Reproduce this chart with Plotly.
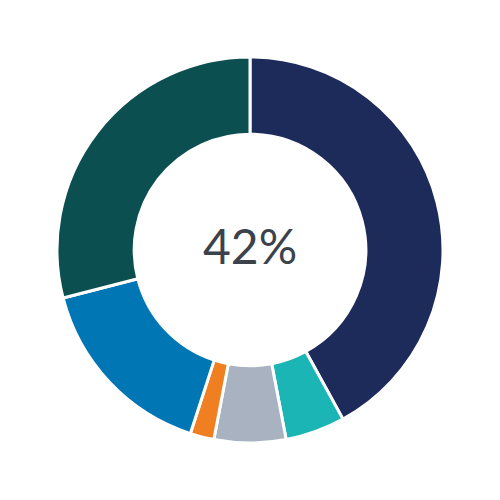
import plotly.graph_objects as go

labels = ["A", "B", "C", "D", "E", "F"]
values = [42, 5, 6, 2, 16, 29]
colors = ["#1d2b5b", "#1cb5b5", "#a8b2c1", "#f07f22", "#0076b5", "#0b4f51"]
center_text = "42%"

fig = go.Figure(
    go.Pie(
        labels=labels,
        values=values,
        hole=0.6,
        sort=False,
        direction="clockwise",
        rotation=0,
        textinfo="none",
        hoverinfo="label+percent",
        marker=dict(colors=colors, line=dict(color="white", width=3)),
    )
)

fig.add_annotation(
    text=center_text,
    x=0.5, y=0.5, xref="paper", yref="paper",
    yshift=5,
    showarrow=False,
    font=dict(family="Lato", size=48, color="#3c424c"),
)

# page body adds 8px, so shift the plot area up/left
fig.update_layout(
    width=500, height=500,
    showlegend=False,
    margin=dict(l=49, r=65, t=49, b=65),
    paper_bgcolor="white",
    plot_bgcolor="white",
)

fig.write_html("out.html")
